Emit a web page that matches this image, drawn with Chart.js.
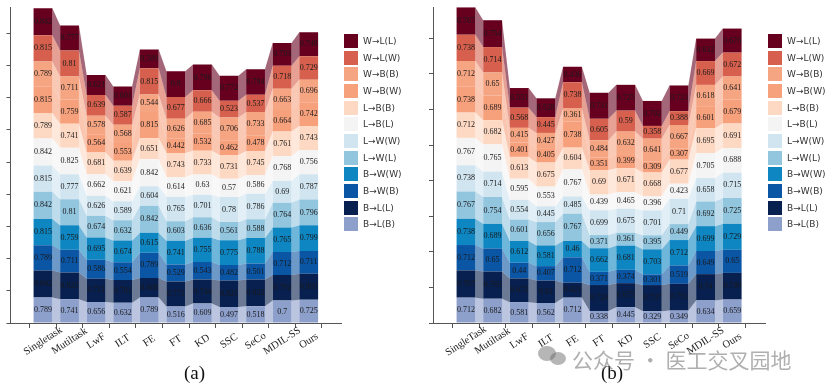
<!DOCTYPE html>
<html>
<head>
<meta charset="utf-8">
<script src="https://cdn.jsdelivr.net/npm/chart.js@4.4.1/dist/chart.umd.min.js"></script>
<style>
  body { margin: 0; background: #fff; }
  #wrap { position: relative; width: 827px; height: 389px; overflow: hidden; }
  canvas { position: absolute; top: 0; }
  .legend { position: absolute; top: 34px; font: 9px "DejaVu Sans", sans-serif; color: #333; }
  .legend div { height: 16.67px; display: flex; align-items: flex-start; }
  .legend span.sw { width: 14px; height: 14px; margin-right: 5px; flex: none; }
  .legend span.tx { line-height: 14px; white-space: nowrap; }
  .cap { position: absolute; top: 362px; font: 19px "Liberation Serif", serif; color: #111; }
  .wm { position: absolute; left: 572px; top: 344px; font: 21px "Noto Sans CJK SC", sans-serif; color: rgba(110,110,110,0.55); white-space: nowrap; }
  .ic { position: absolute; border-radius: 50%; background: rgba(110,110,110,0.5); }
</style>
</head>
<body>
<div id="wrap">
  <canvas id="chartA" width="345" height="389" style="left:0"></canvas>
  <canvas id="chartB" width="350" height="389" style="left:420px"></canvas>
  <div class="legend" id="legA" style="left:344px"></div>
  <div class="legend" id="legB" style="left:768px"></div>
  <div class="cap" style="left:184px">(a)</div>
  <div class="cap" style="left:601px">(b)</div>
  <div class="ic" style="left:538px;top:346px;width:18px;height:15px"></div>
  <div class="ic" style="left:550px;top:352px;width:16px;height:13px"></div>
  <div class="wm">公众号 · 医工交叉园地</div>
</div>
<script>
const seriesNames = ['W→L(L)','W→L(W)','W→B(B)','W→B(W)','L→B(B)','L→B(L)','L→W(W)','L→W(L)','B→W(W)','B→W(B)','B→L(L)','B→L(B)'];
const seriesColors = ['#67001f','#d6604d','#f6a583','#f7a07c','#fdd9c4','#f4f4f4','#d1e5f0','#92c5de','#0e86c2','#0b55a5','#08204f','#8d9fcb'];

const categoriesA = ['Singletask','Mutiltask','LwF','ILT','FE','FT','KD','SSC','SeCo','MDIL-SS','Ours'];
const categoriesB = ['SingleTask','Mutiltask','LwF','ILT','FE','FT','KD','SSC','SeCo','MDIL-SS','Ours'];

// panel (a), one array per series, top of stack first
const aWLL = [0.842, 0.777, 0.621, 0.601, 0.589, 0.8, 0.796, 0.772, 0.794, 0.703, 0.748];
const aWLW = [0.815, 0.81, 0.639, 0.587, 0.815, 0.677, 0.666, 0.523, 0.537, 0.718, 0.729];
const aWBB = [0.789, 0.711, 0.578, 0.568, 0.544, 0.626, 0.685, 0.706, 0.733, 0.663, 0.696];
const aWBW = [0.815, 0.759, 0.564, 0.553, 0.815, 0.442, 0.532, 0.462, 0.478, 0.664, 0.742];
const aLBB = [0.789, 0.741, 0.681, 0.639, 0.651, 0.743, 0.733, 0.731, 0.745, 0.761, 0.743];
const aLBL = [0.842, 0.825, 0.662, 0.621, 0.842, 0.614, 0.63, 0.57, 0.586, 0.768, 0.756];
const aLWW = [0.815, 0.777, 0.626, 0.589, 0.604, 0.765, 0.701, 0.78, 0.786, 0.69, 0.787];
const aLWL = [0.842, 0.81, 0.674, 0.632, 0.842, 0.603, 0.636, 0.561, 0.588, 0.764, 0.796];
const aBWW = [0.815, 0.759, 0.695, 0.674, 0.615, 0.741, 0.755, 0.775, 0.788, 0.765, 0.799];
const aBWB = [0.789, 0.711, 0.586, 0.554, 0.789, 0.529, 0.543, 0.482, 0.501, 0.712, 0.711];
const aBLL = [0.842, 0.825, 0.721, 0.701, 0.608, 0.771, 0.744, 0.821, 0.832, 0.792, 0.803];
const aBLB = [0.789, 0.741, 0.656, 0.632, 0.789, 0.516, 0.609, 0.497, 0.518, 0.7, 0.725];

// panel (b)
const bWLL = [0.767, 0.754, 0.551, 0.528, 0.436, 0.731, 0.725, 0.702, 0.723, 0.632, 0.676];
const bWLW = [0.738, 0.714, 0.568, 0.445, 0.738, 0.605, 0.59, 0.358, 0.388, 0.669, 0.672];
const bWBB = [0.712, 0.65, 0.415, 0.427, 0.361, 0.484, 0.632, 0.641, 0.667, 0.618, 0.641];
const bWBW = [0.738, 0.689, 0.401, 0.405, 0.738, 0.351, 0.399, 0.309, 0.307, 0.601, 0.679];
const bLBB = [0.712, 0.682, 0.613, 0.675, 0.604, 0.69, 0.671, 0.668, 0.677, 0.695, 0.691];
const bLBL = [0.767, 0.765, 0.595, 0.553, 0.767, 0.439, 0.465, 0.396, 0.423, 0.705, 0.688];
const bLWW = [0.738, 0.714, 0.554, 0.445, 0.485, 0.699, 0.675, 0.701, 0.71, 0.658, 0.715];
const bLWL = [0.767, 0.754, 0.601, 0.656, 0.767, 0.371, 0.361, 0.395, 0.449, 0.692, 0.725];
const bBWW = [0.738, 0.689, 0.612, 0.581, 0.46, 0.662, 0.681, 0.703, 0.712, 0.699, 0.729];
const bBWB = [0.712, 0.65, 0.44, 0.407, 0.712, 0.371, 0.374, 0.301, 0.519, 0.649, 0.65];
const bBLL = [0.767, 0.765, 0.672, 0.63, 0.421, 0.729, 0.675, 0.737, 0.751, 0.74, 0.749];
const bBLB = [0.712, 0.682, 0.581, 0.562, 0.712, 0.338, 0.445, 0.329, 0.349, 0.634, 0.659];

const seriesA = [aWLL, aWLW, aWBB, aWBW, aLBB, aLBL, aLWW, aLWL, aBWW, aBWB, aBLL, aBLB];
const seriesB = [bWLL, bWLW, bWBB, bWBW, bLBB, bLBL, bLWW, bLWL, bBWW, bBWB, bBLL, bBLB];

function fade(hex, a) {
  const n = parseInt(hex.slice(1), 16);
  return `rgba(${n >> 16},${(n >> 8) & 255},${n & 255},${a})`;
}

// ribbons between neighbouring bars, value labels and rotated category names
const decor = {
  id: 'decor',
  beforeDatasetsDraw(chart) {
    const ctx = chart.ctx;
    chart.data.datasets.forEach((ds, d) => {
      const bars = chart.getDatasetMeta(d).data;
      ctx.fillStyle = fade(ds.backgroundColor, 0.6);
      for (let i = 0; i < bars.length - 1; i++) {
        const p = bars[i], q = bars[i + 1];
        ctx.beginPath();
        ctx.moveTo(p.x + p.width / 2, p.y);
        ctx.lineTo(q.x - q.width / 2, q.y);
        ctx.lineTo(q.x - q.width / 2, q.base);
        ctx.lineTo(p.x + p.width / 2, p.base);
        ctx.closePath();
        ctx.fill();
      }
    });
  },
  afterDatasetsDraw(chart) {
    const ctx = chart.ctx;
    ctx.save();
    ctx.font = '8px "Liberation Serif", serif';
    ctx.fillStyle = '#1a1a1a';
    ctx.textAlign = 'center';
    ctx.textBaseline = 'middle';
    chart.data.datasets.forEach((ds, d) => {
      chart.getDatasetMeta(d).data.forEach((bar, i) => {
        ctx.fillText(String(ds.data[i].y), bar.x, (bar.y + bar.base) / 2);
      });
    });
    ctx.restore();
  },
  afterDraw(chart) {
    const ctx = chart.ctx;
    const cats = chart.options.plugins.decor.cats;
    ctx.save();
    ctx.font = '10.5px "Liberation Serif", serif';
    ctx.fillStyle = '#222';
    ctx.textAlign = 'center';
    ctx.textBaseline = 'middle';
    cats.forEach((c, i) => {
      ctx.save();
      ctx.translate(chart.scales.x.getPixelForValue(i), chart.chartArea.bottom + 18);
      ctx.rotate(-33 * Math.PI / 180);
      ctx.fillText(c, 0, 0);
      ctx.restore();
    });
    ctx.restore();
  }
};

function makeChart(id, cats, series, o) {
  const datasets = series.map((vals, k) => ({
    label: seriesNames[k],
    data: vals.map((v, i) => ({ x: i, y: v })),
    backgroundColor: seriesColors[k],
    borderWidth: 0,
    stack: 's',
    barPercentage: 0.708,
    categoryPercentage: 1
  })).reverse();
  return new Chart(document.getElementById(id), {
    type: 'bar',
    data: { datasets },
    plugins: [decor],
    options: {
      responsive: false,
      animation: false,
      layout: { padding: { top: 7, right: o.padRight, left: 0, bottom: 0 } },
      plugins: { legend: { display: false }, tooltip: { enabled: false }, decor: { cats } },
      scales: {
        x: {
          type: 'linear', min: o.xMin, max: o.xMax,
          afterBuildTicks: s => { s.ticks = cats.map((c, i) => ({ value: i })); },
          afterFit: s => { s.height = 66; },
          ticks: { display: false },
          grid: { drawOnChartArea: false, tickLength: 5, color: '#555' },
          border: { color: '#555' }
        },
        y: {
          stacked: true, min: 0, max: o.yMax,
          afterBuildTicks: s => { s.ticks = []; for (let v = 0; v <= Math.floor(o.yMax); v++) s.ticks.push({ value: v }); },
          afterFit: s => { s.width = o.yWidth; },
          ticks: { display: false },
          grid: { drawOnChartArea: false, tickLength: 4, color: '#555' },
          border: { color: '#555' }
        }
      }
    }
  });
}

makeChart('chartA', categoriesA, seriesA, { xMin: -0.657, xMax: 10.65, yMax: 9.82, yWidth: 10.5, padRight: 4 });
makeChart('chartB', categoriesB, seriesB, { xMin: -0.673, xMax: 10.666, yMax: 8.88, yWidth: 13, padRight: 5 });

function buildLegend(id) {
  const el = document.getElementById(id);
  seriesNames.forEach((n, k) => {
    const row = document.createElement('div');
    row.innerHTML = `<span class="sw" style="background:${seriesColors[k]}"></span><span class="tx">${n}</span>`;
    el.appendChild(row);
  });
}
buildLegend('legA');
buildLegend('legB');
</script>
</body>
</html>
